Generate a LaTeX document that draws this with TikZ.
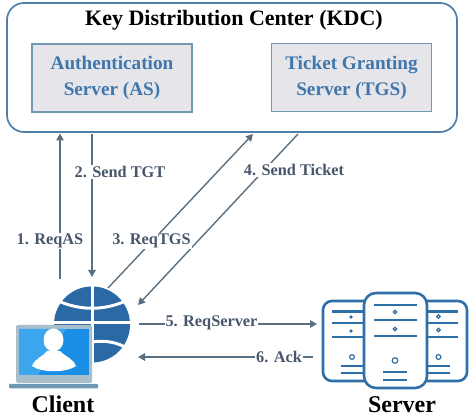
\documentclass[tikz,border=0pt]{standalone}
\usepackage{fontspec}
\setmainfont{Liberation Serif}
\usepackage{xcolor}
\usetikzlibrary{arrows.meta,positioning,calc}
\definecolor{kdcblue}{HTML}{4F7FA8}
\definecolor{boxedge}{HTML}{7199B2}
\definecolor{boxfill}{HTML}{E6E6EA}
\definecolor{astext}{HTML}{3F76AB}
\definecolor{lbltext}{HTML}{47566A}
\definecolor{arrowgray}{HTML}{5A6F7F}
\definecolor{globeblue}{HTML}{2A69A3}
\definecolor{srvblue}{HTML}{2F6FA8}
\definecolor{lapframe}{HTML}{A9BECD}
\definecolor{lapbase}{HTML}{7099B5}
\definecolor{lapdark}{HTML}{1A8FE6}
\definecolor{laplight}{HTML}{3BA6EE}
\begin{document}
\begin{tikzpicture}[x=1pt, y=-1pt, every node/.style={inner sep=0pt, font=\bfseries}]
        \tikzset{
            srv/.style={draw=boxedge, fill=boxfill, line width=1.3pt, minimum width=160pt, minimum height=68pt, align=center, text=astext, font=\bfseries\fontsize{19.2}{26}\selectfont},
            lbl/.style={fill=white, text=lbltext, inner ysep=1pt, inner xsep=1pt, font=\bfseries\fontsize{16.3}{18}\selectfont},
            arr/.style={-{Triangle[length=7pt, width=7.5pt]}, draw=arrowgray, line width=1.4pt},
            rack/.style={draw=srvblue, line width=2.6pt, fill=white, rounded corners=9pt},
            bar/.style={draw=srvblue, line width=2.2pt},
            led/.style={draw=srvblue, line width=1.2pt}
        }
        \useasboundingbox (0,0) rectangle (474,419);
        % kdc
        \node[draw=kdcblue, line width=1.7pt, rounded corners=17pt, minimum width=450pt, minimum height=129pt] (kdc) at (232,67.5) {};
        \node[font=\bfseries\fontsize{22}{24}\selectfont] (title) at (234,20) {Key Distribution Center (KDC)};
        \node[srv] (as) at (112,78) {Authentication\\Server (AS)};
        \node[srv] (tgs) at (351.5,77.5) {Ticket Granting\\Server (TGS)};
        % globe
        \fill[globeblue] (92,324.5) circle (38);
        \node[circle, minimum size=76pt] (globe) at (92,324.5) {};
        \draw[white, line width=3pt] (92,285) -- (92,364);
        \draw[white, line width=3pt] (53,322.5) -- (131,322.5);
        \draw[white, line width=3pt] (56,300) .. controls (80,311) and (104,311) .. (128,300);
        \draw[white, line width=3pt] (92,342) .. controls (104,340) and (118,342) .. (128,349);
        % laptop
        \fill[lapframe, rounded corners=1.5pt] (16,325) rectangle (92,383);
        \fill[lapbase, rounded corners=1pt] (9,384) rectangle (98,388.5);
        \fill[lapdark] (19,329) rectangle (89,375);
        \fill[laplight] (19,329) -- (66,329) -- (38,375) -- (19,375) -- cycle;
        \fill[white] (53.5,340) ellipse (10 and 11.5);
        \fill[white] (32,366) .. controls (35,358) and (44,356) .. (47,351) -- (60,351) .. controls (64,356) and (73,358) .. (76,366) .. controls (66,373) and (42,373) .. (32,366) -- cycle;
        % server
        \draw[rack] (323,301) rectangle (380,381);
        \draw[rack] (410,301) rectangle (467,381);
        \draw[rack, rounded corners=12pt] (364,293) rectangle (427,388);
        \node[minimum width=144pt, minimum height=95pt] (server) at (395,340.5) {};
        \foreach \yy in {311.5,323,337} {
            \draw[bar] (332,\yy) -- (363,\yy);
            \draw[bar] (428,\yy) -- (458,\yy);
        }
        \foreach \yy in {366,373} {
            \draw[bar] (341,\yy) -- (363,\yy);
            \draw[bar] (428,\yy) -- (450,\yy);
        }
        \foreach \yy in {305,320,336} \draw[bar] (374,\yy) -- (417,\yy);
        \foreach \yy in {372,380} \draw[bar] (383,\yy) -- (407,\yy);
        \foreach \yy in {317,331} \fill[srvblue] (351,\yy) circle (1.8);
        \foreach \yy in {312,329} \draw[led] (395,\yy) circle (1.8);
        \foreach \yy in {316.5,330} \draw[led] (438.5,\yy) circle (1.8);
        \draw[led] (352,357) circle (2.4);
        \draw[led] (438.5,357) circle (2.4);
        \draw[led] (395,360.5) circle (2.8);
        % arrow ends
        \coordinate (c1) at (60,279);
        \coordinate (k1) at (60,133.5);
        \coordinate (k2) at (92,134);
        \coordinate (c2) at (92,277);
        \coordinate (c3) at (108,288);
        \coordinate (k3) at (253,134);
        \coordinate (k4) at (298,134);
        \coordinate (c4) at (138,305);
        \coordinate (c5) at (139,324);
        \coordinate (s5) at (317,324);
        \coordinate (s6) at (313,357);
        \coordinate (c6) at (138,357);
        \draw[arr] (c1) -- (k1);
        \draw[arr] (k2) -- (c2);
        \draw[arr] (c3) -- (k3);
        \draw[arr] (k4) -- (c4);
        \draw[arr] (c5) -- (s5);
        \draw[arr] (s6) -- (c6);
        % labels
        \node[lbl] (l1) at (50,241) {1. ReqAS};
        \node[lbl] (l2) at (120,172) {2. Send TGT};
        \node[lbl] (l3) at (151.5,241) {3. ReqTGS};
        \node[lbl] (l4) at (294,170) {4. Send Ticket};
        \node[lbl] (l5) at (211.5,323) {5. ReqServer};
        \node[lbl] (l6) at (279,357) {6. Ack};
        \node[anchor=base, font=\bfseries\fontsize{24}{26}\selectfont] (client) at (63,413) {Client};
        \node[anchor=base, font=\bfseries\fontsize{24}{26}\selectfont] (srvname) at (402,413) {Server};
    \end{tikzpicture}
\end{document}
